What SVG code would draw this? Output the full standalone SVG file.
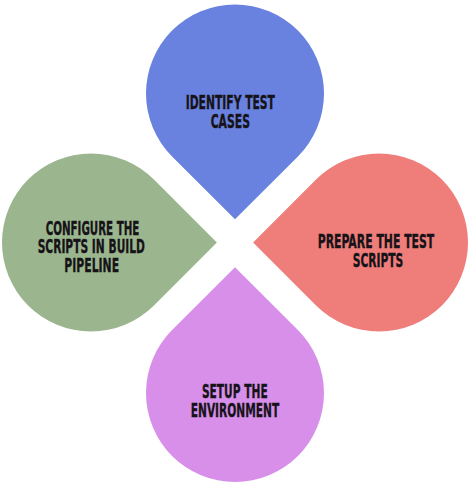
<svg xmlns="http://www.w3.org/2000/svg" width="474" height="495" viewBox="0 0 474 495">
<style>
.lbl{font-family:"Liberation Sans Narrow","DejaVu Sans Condensed","Liberation Sans",sans-serif;font-weight:bold;font-size:19.5px;fill:#161318;stroke:#161318;stroke-width:0.35px;text-anchor:middle}
</style>
<defs>
<path id="drop" d="M0,125.87 L-62.93,62.93 A89,89 0 1 1 62.93,62.93 Z"/>
</defs>
<rect width="474" height="495" fill="#ffffff"/>
<g id="connectors"/>
<g id="node-identify">
<use href="#drop" transform="translate(235,93.5)" fill="#6a82df"/>
<text class="lbl" x="230.3" y="108.5" textLength="89.3" lengthAdjust="spacingAndGlyphs">IDENTIFY TEST</text>
<text class="lbl" x="230.3" y="127.5" textLength="39.3" lengthAdjust="spacingAndGlyphs">CASES</text>
</g>
<g id="node-prepare">
<use href="#drop" transform="translate(379,242.5) rotate(90)" fill="#ef7e7a"/>
<text class="lbl" x="376" y="247.5" textLength="116.6" lengthAdjust="spacingAndGlyphs">PREPARE THE TEST</text>
<text class="lbl" x="378" y="266.8" textLength="50.6" lengthAdjust="spacingAndGlyphs">SCRIPTS</text>
</g>
<g id="node-setup">
<use href="#drop" transform="translate(235,393) rotate(180)" fill="#d78fea"/>
<text class="lbl" x="234.8" y="397.5" textLength="65.7" lengthAdjust="spacingAndGlyphs">SETUP THE</text>
<text class="lbl" x="235" y="416.8" textLength="88.6" lengthAdjust="spacingAndGlyphs">ENVIRONMENT</text>
</g>
<g id="node-configure">
<use href="#drop" transform="translate(91,242.5) rotate(-90)" fill="#9bb68e"/>
<text class="lbl" x="92.5" y="234.5" textLength="93.6" lengthAdjust="spacingAndGlyphs">CONFIGURE THE</text>
<text class="lbl" x="91.3" y="253.4" textLength="107.3" lengthAdjust="spacingAndGlyphs">SCRIPTS IN BUILD</text>
<text class="lbl" x="91.7" y="272.2" textLength="54.7" lengthAdjust="spacingAndGlyphs">PIPELINE</text>
</g>
</svg>
